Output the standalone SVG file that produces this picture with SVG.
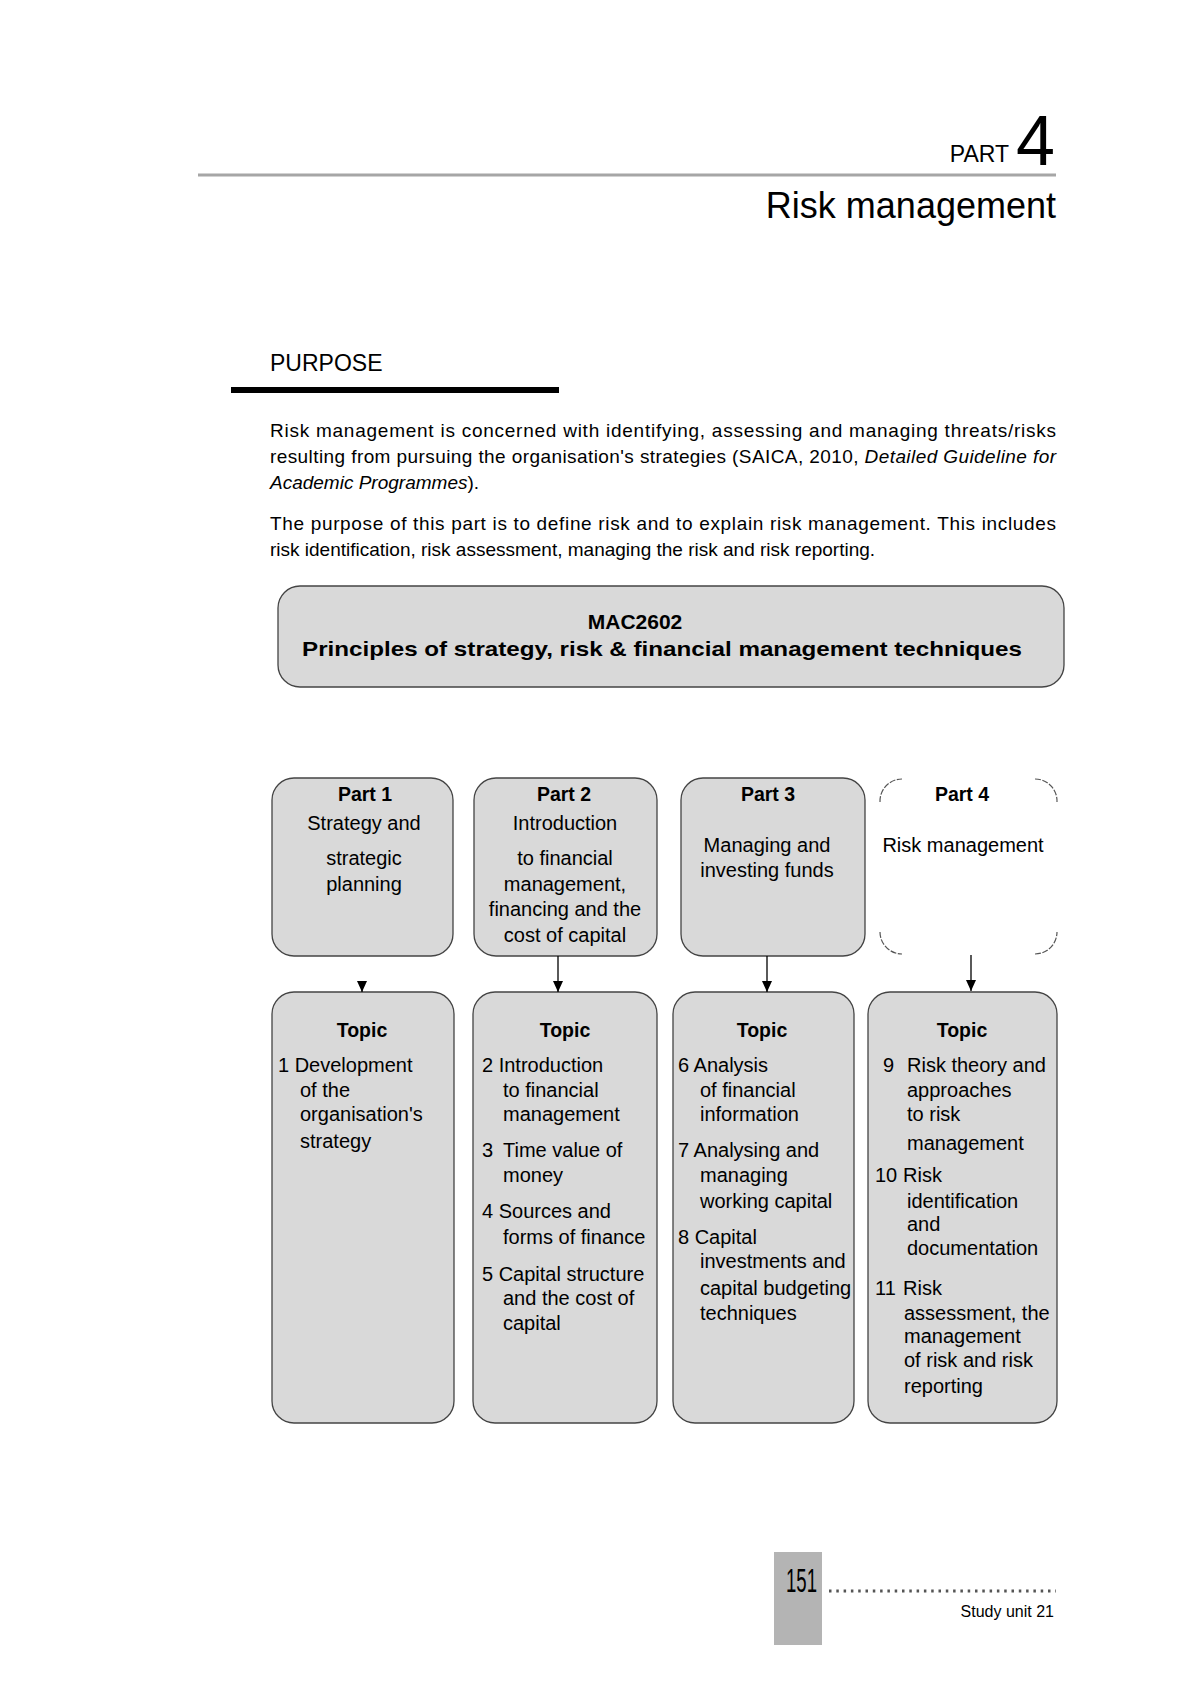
<svg xmlns="http://www.w3.org/2000/svg" width="1200" height="1698" viewBox="0 0 1200 1698">
<defs>
<marker id="ah" markerUnits="userSpaceOnUse" markerWidth="12" markerHeight="10" refX="11" refY="5" orient="auto">
<path d="M0,0 L11,5 L0,10 Z" fill="#000"/>
</marker>
<style>
.t{font-family:"Liberation Sans",Arial,sans-serif;fill:#000}
.b{font-weight:bold}
.box{fill:#d9d9d9;stroke:#444;stroke-width:1.3}
.body{font-size:20px}
.c{text-anchor:middle}
.para{font-size:19px}
.conn{stroke:#000;stroke-width:1.3;fill:none}
.dash{fill:none;stroke:#555;stroke-width:1.2;stroke-dasharray:6 1.5}
</style>
</defs>
<rect width="1200" height="1698" fill="#fff"/>

<g id="header">
<text class="t" x="1009" y="162" font-size="23" text-anchor="end">PART</text>
<text class="t" x="1055" y="165" font-size="70" text-anchor="end">4</text>
<line x1="198" y1="175" x2="1056" y2="175" stroke="#a6a6a6" stroke-width="3"/>
<text class="t" x="1056" y="218" font-size="36" text-anchor="end">Risk management</text>
</g>

<g id="purpose">
<text class="t" x="270" y="371" font-size="23">PURPOSE</text>
<rect x="231" y="387" width="328" height="6" fill="#000"/>
<text class="t para" x="270" y="437" textLength="786" lengthAdjust="spacing">Risk management is concerned with identifying, assessing and managing threats/risks</text>
<text class="t para" x="270" y="463" textLength="786" lengthAdjust="spacing">resulting from pursuing the organisation's strategies (SAICA, 2010, <tspan font-style="italic">Detailed Guideline for</tspan></text>
<text class="t para" x="270" y="489"><tspan font-style="italic">Academic Programmes</tspan>).</text>
<text class="t para" x="270" y="530" textLength="786" lengthAdjust="spacing">The purpose of this part is to define risk and to explain risk management. This includes</text>
<text class="t para" x="270" y="556">risk identification, risk assessment, managing the risk and risk reporting.</text>
</g>

<g id="mac2602">
<rect class="box" x="278" y="586" width="786" height="101" rx="22"/>
<text class="t b c" x="635" y="629" font-size="21">MAC2602</text>
<text class="t b" x="302" y="656" font-size="21" textLength="720" lengthAdjust="spacingAndGlyphs">Principles of strategy, risk &amp; financial management techniques</text>
</g>

<g id="part1">
<rect class="box" x="272" y="778" width="181" height="178" rx="22"/>
<text class="t b c" x="365" y="801" font-size="19.5">Part 1</text>
<text class="t body c" x="364" y="830">Strategy and</text>
<text class="t body c" x="364" y="865">strategic</text>
<text class="t body c" x="364" y="891">planning</text>
</g>

<g id="part2">
<rect class="box" x="474" y="778" width="183" height="178" rx="22"/>
<text class="t b c" x="564" y="801" font-size="19.5">Part 2</text>
<text class="t body c" x="565" y="830">Introduction</text>
<text class="t body c" x="565" y="865">to financial</text>
<text class="t body c" x="565" y="891">management,</text>
<text class="t body c" x="565" y="916">financing and the</text>
<text class="t body c" x="565" y="942">cost of capital</text>
</g>

<g id="part3">
<rect class="box" x="681" y="778" width="184" height="178" rx="22"/>
<text class="t b c" x="768" y="801" font-size="19.5">Part 3</text>
<text class="t body c" x="767" y="852">Managing and</text>
<text class="t body c" x="767" y="877">investing funds</text>
</g>

<g id="part4">
<path class="dash" d="M880,802 A22,22 0 0 1 902,779"/>
<path class="dash" d="M1035,779 A22,22 0 0 1 1057,802"/>
<path class="dash" d="M880,932 A22,22 0 0 0 902,954"/>
<path class="dash" d="M1035,954 A22,22 0 0 0 1057,932"/>
<text class="t b c" x="962" y="801" font-size="19.5">Part 4</text>
<text class="t body c" x="963" y="852">Risk management</text>
</g>

<g id="topic1">
<rect class="box" x="272" y="992" width="182" height="431" rx="22"/>
<text class="t b c" x="362" y="1037" font-size="19.5">Topic</text>
<text class="t body" x="278" y="1072">1 Development</text>
<text class="t body" x="300" y="1097">of the</text>
<text class="t body" x="300" y="1121">organisation's</text>
<text class="t body" x="300" y="1148">strategy</text>
</g>

<g id="topic2">
<rect class="box" x="473" y="992" width="184" height="431" rx="22"/>
<text class="t b c" x="565" y="1037" font-size="19.5">Topic</text>
<text class="t body" x="482" y="1072">2 Introduction</text>
<text class="t body" x="503" y="1097">to financial</text>
<text class="t body" x="503" y="1121">management</text>
<text class="t body" x="482" y="1157">3<tspan x="503">Time value of</tspan></text>
<text class="t body" x="503" y="1182">money</text>
<text class="t body" x="482" y="1218">4 Sources and</text>
<text class="t body" x="503" y="1244">forms of finance</text>
<text class="t body" x="482" y="1281">5 Capital structure</text>
<text class="t body" x="503" y="1305">and the cost of</text>
<text class="t body" x="503" y="1330">capital</text>
</g>

<g id="topic3">
<rect class="box" x="673" y="992" width="181" height="431" rx="22"/>
<text class="t b c" x="762" y="1037" font-size="19.5">Topic</text>
<text class="t body" x="678" y="1072">6 Analysis</text>
<text class="t body" x="700" y="1097">of financial</text>
<text class="t body" x="700" y="1121">information</text>
<text class="t body" x="678" y="1157">7 Analysing and</text>
<text class="t body" x="700" y="1182">managing</text>
<text class="t body" x="700" y="1208">working capital</text>
<text class="t body" x="678" y="1244">8 Capital</text>
<text class="t body" x="700" y="1268">investments and</text>
<text class="t body" x="700" y="1295">capital budgeting</text>
<text class="t body" x="700" y="1320">techniques</text>
</g>

<g id="topic4">
<rect class="box" x="868" y="992" width="189" height="431" rx="22"/>
<text class="t b c" x="962" y="1037" font-size="19.5">Topic</text>
<text class="t body" x="883" y="1072">9<tspan x="907">Risk theory and</tspan></text>
<text class="t body" x="907" y="1097">approaches</text>
<text class="t body" x="907" y="1121">to risk</text>
<text class="t body" x="907" y="1150">management</text>
<text class="t body" x="875" y="1182">10<tspan x="903">Risk</tspan></text>
<text class="t body" x="907" y="1208">identification</text>
<text class="t body" x="907" y="1231">and</text>
<text class="t body" x="907" y="1255">documentation</text>
<text class="t body" x="875" y="1295">11<tspan x="903">Risk</tspan></text>
<text class="t body" x="904" y="1320">assessment, the</text>
<text class="t body" x="904" y="1343">management</text>
<text class="t body" x="904" y="1367">of risk and risk</text>
<text class="t body" x="904" y="1393">reporting</text>
</g>

<g id="connectors">
<line class="conn" x1="362" y1="984" x2="362" y2="992" stroke="none" marker-end="url(#ah)"/>
<line class="conn" x1="558" y1="956" x2="558" y2="992" marker-end="url(#ah)"/>
<line class="conn" x1="767" y1="956" x2="767" y2="992" marker-end="url(#ah)"/>
<line class="conn" x1="971" y1="955" x2="971" y2="991" marker-end="url(#ah)"/>
</g>

<g id="footer">
<rect x="774" y="1552" width="48" height="93" fill="#b4b4b4"/>
<text class="t" x="786" y="1592" font-size="33" textLength="31" lengthAdjust="spacingAndGlyphs">151</text>
<line x1="829" y1="1591" x2="1056" y2="1591" stroke="#555" stroke-width="3" stroke-dasharray="2.5 4.8"/>
<text class="t" x="1054" y="1617" font-size="16" text-anchor="end">Study unit 21</text>
</g>
</svg>
